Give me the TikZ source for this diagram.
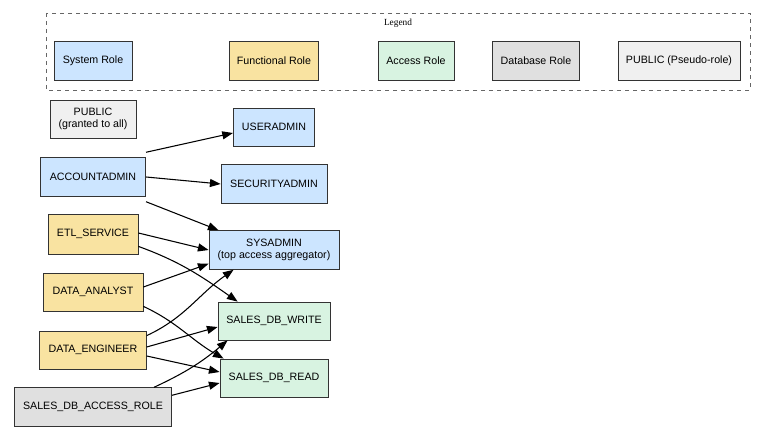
\documentclass[tikz,border=0pt]{standalone}
\usepackage{fontspec}
\setmainfont{Liberation Sans}
\newfontfamily\legendfont{Liberation Serif}
\usetikzlibrary{arrows.meta,calc}
\definecolor{sysblue}{HTML}{CCE5FF}
\definecolor{funcyellow}{HTML}{F9E3A1}
\definecolor{accgreen}{HTML}{D8F3E1}
\definecolor{dbgray}{HTML}{E0E0E0}
\definecolor{pubgray}{HTML}{F0F0F0}
\begin{document}
\begin{tikzpicture}[x=0.75pt,y=-0.75pt,
  role/.style={draw=black!80, semithick, align=center, inner sep=0pt, font=\fontsize{8}{9.5}\selectfont},
  sysrole/.style={role, fill=sysblue},
  funcrole/.style={role, fill=funcyellow},
  accrole/.style={role, fill=accgreen},
  dbrole/.style={role, fill=dbgray},
  pubrole/.style={role, fill=pubgray},
  grant/.style={-{Triangle[length=8pt,width=6pt]}, thick, black}]
\useasboundingbox (0,0) rectangle (761,435);
% Legend
\draw[dashed, gray!80!black] (46,13) rectangle (750,90);
\node[font=\fontsize{7}{8}\selectfont\legendfont] (legend) at (398,23) {Legend};
\node[sysrole, minimum width=58.5pt, minimum height=29pt] (lsys) at (93,61) {System Role};
\node[funcrole, minimum width=67pt, minimum height=29pt] (lfunc) at (274,61) {Functional Role};
\node[accrole, minimum width=57pt, minimum height=29pt] (lacc) at (416,61) {Access Role};
\node[dbrole, minimum width=65pt, minimum height=29pt] (ldb) at (536,61) {Database Role};
\node[pubrole, minimum width=91.5pt, minimum height=29pt] (lpub) at (679,61) {PUBLIC (Pseudo-role)};

% Roles, left column
\node[pubrole, minimum width=64.5pt, minimum height=28.5pt] (public) at (93,119) {PUBLIC\\(granted to all)};
\node[sysrole, minimum width=79pt, minimum height=29pt] (accountadmin) at (93,177) {ACCOUNTADMIN};
\node[funcrole, minimum width=67.5pt, minimum height=30pt] (etl) at (93,234) {ETL\_SERVICE};
\node[funcrole, minimum width=75pt, minimum height=28.5pt] (analyst) at (93,292) {DATA\_ANALYST};
\node[funcrole, minimum width=80pt, minimum height=28.5pt] (engineer) at (93,350) {DATA\_ENGINEER};
\node[dbrole, minimum width=118pt, minimum height=29pt] (accessrole) at (93,407) {SALES\_DB\_ACCESS\_ROLE};

% Roles, right column
\node[sysrole, minimum width=61pt, minimum height=28.5pt] (useradmin) at (274,127) {USERADMIN};
\node[sysrole, minimum width=79.5pt, minimum height=29pt] (securityadmin) at (274,184) {SECURITYADMIN};
\node[sysrole, minimum width=97.5pt, minimum height=29pt] (sysadmin) at (274,250) {SYSADMIN\\(top access aggregator)};
\node[accrole, minimum width=84pt, minimum height=28.5pt] (write) at (274,321) {SALES\_DB\_WRITE};
\node[accrole, minimum width=81pt, minimum height=28.5pt] (read) at (274,378) {SALES\_DB\_READ};

% Grants
\draw[grant] ($(accountadmin.north east)+(0,-5)$) -- ($(useradmin.west)+(0,6)$);
\draw[grant] (accountadmin.east) -- (securityadmin.west);
\draw[grant] ($(accountadmin.south east)+(0,5)$) -- ($(sysadmin.north west)+(10,0)$);
\draw[grant] ($(etl.east)+(0,-1)$) -- (sysadmin.west);
\draw[grant] ($(etl.south east)+(0,-8)$) to[out=-20,in=145] ($(write.north west)+(20,0)$);
\draw[grant] ($(analyst.east)+(0,-5)$) -- ($(sysadmin.south west)+(0,-6)$);
\draw[grant] ($(analyst.south east)+(0,-5)$) to[out=-25,in=150] ($(read.north west)+(4,0)$);
\draw[grant] ($(engineer.north east)+(0,5)$) to[out=25,in=-145] ($(sysadmin.south west)+(25,0)$);
\draw[grant] ($(engineer.east)+(0,-3)$) -- ($(write.west)+(0,6)$);
\draw[grant] ($(engineer.east)+(0,6)$) -- ($(read.west)+(0,-6)$);
\draw[grant] ($(accessrole.north east)+(-18,0)$) to[out=25,in=-140] ($(write.south west)+(10,0)$);
\draw[grant] ($(accessrole.north east)+(0,8)$) -- ($(read.west)+(0,5)$);
\end{tikzpicture}
\end{document}
